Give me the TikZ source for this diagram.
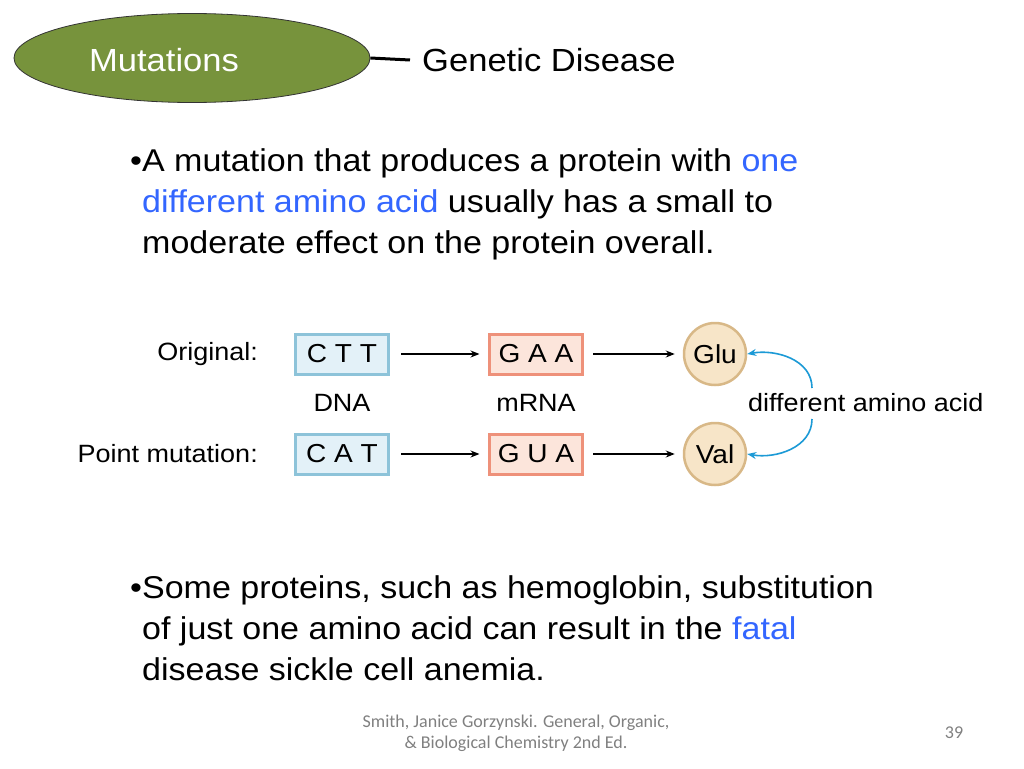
\documentclass[tikz,border=0pt]{standalone}
\usepackage{fontspec}
\setmainfont[FakeStretch=1.08,Ligatures=NoCommon]{Liberation Sans}
\newfontfamily\calib{Carlito}
\usetikzlibrary{arrows.meta,shapes.geometric}
\definecolor{olive}{HTML}{77933C}
\definecolor{hl}{HTML}{3366FF}
\definecolor{dnafill}{HTML}{E3F1F8}
\definecolor{dnaedge}{HTML}{8DC3D9}
\definecolor{rnafill}{HTML}{FCE5DB}
\definecolor{rnaedge}{HTML}{EE917A}
\definecolor{aafill}{HTML}{F7E5C8}
\definecolor{aaedge}{HTML}{D8B887}
\definecolor{cyanarr}{HTML}{1C9AD6}
\begin{document}
\begin{tikzpicture}[x=1pt,y=-1pt,
  body/.style={anchor=base west,inner sep=0pt,font=\fontsize{31.5}{41}\selectfont},
  lab/.style={inner sep=0pt,font=\fontsize{25}{30}\selectfont},
  dnabox/.style={draw=dnaedge,fill=dnafill,line width=3pt,minimum width=93pt,minimum height=40pt,inner sep=0pt,font=\fontsize{26}{30}\selectfont},
  rnabox/.style={draw=rnaedge,fill=rnafill,line width=3pt,minimum width=93pt,minimum height=40pt,inner sep=0pt,font=\fontsize{26}{30}\selectfont},
  aa/.style={circle,draw=aaedge,fill=aafill,line width=2.5pt,minimum size=62pt,inner sep=0pt,font=\fontsize{26}{30}\selectfont},
  flow/.style={-{Stealth[length=9pt,width=7pt]},line width=1.3pt},
  diffarr/.style={-{Stealth[length=9pt,width=7pt]},line width=1.6pt,draw=cyanarr},
  foot/.style={inner sep=0pt,text=black!50,font=\calib\fontsize{18}{21}\selectfont,align=center}]
\fill[white] (0,0) rectangle (1024,768);
\useasboundingbox (0,0) rectangle (1024,768);
% title
\node[ellipse,draw=black!80,line width=0.8pt,fill=olive,minimum width=356pt,minimum height=89pt,inner sep=0pt] (mut) at (192,58) {};
\node[text=white,inner sep=0pt,font=\fontsize{32}{38}\selectfont] (mutt) at (164,60) {Mutations};
\node[anchor=west,inner sep=0pt,font=\fontsize{32}{38}\selectfont] (gd) at (422,60) {Genetic Disease};
\draw[line width=3pt] (mut.east) -- ([xshift=-12pt]gd.west);
% bullet 1
\node[body] (b1a) at (130,171) {\textbullet A mutation that produces a protein with \textcolor{hl}{one}};
\node[body] (b1b) at (142,212) {\textcolor{hl}{different amino acid} usually has a small to};
\node[body] (b1c) at (142,253) {moderate effect on the protein overall.};
% diagram
\node[lab,anchor=east] (orig) at (258,354) {Original:};
\node[lab,anchor=east] (pm) at (258,454) {Point mutation:};
\node[dnabox] (ctt) at (342,354) {C T T};
\node[dnabox] (cat) at (342,454) {C A T};
\node[rnabox] (gaa) at (536,354) {G A A};
\node[rnabox] (gua) at (536,454) {G U A};
\node[aa] (glu) at (715,354) {Glu};
\node[aa] (val) at (715,454) {Val};
\node[lab] (dna) at (342,403) {DNA};
\node[lab] (mrna) at (536,403) {mRNA};
\node[lab,anchor=west] (diff) at (748,403) {different amino acid};
\draw[flow] ([xshift=11pt]ctt.east) -- ([xshift=-8.5pt]gaa.west);
\draw[flow] ([xshift=11pt]cat.east) -- ([xshift=-8.5pt]gua.west);
\draw[flow] ([xshift=9pt]gaa.east) -- ([xshift=-8pt]glu.west);
\draw[flow] ([xshift=9pt]gua.east) -- ([xshift=-8pt]val.west);
\coordinate (d1) at (812,388);
\coordinate (d2) at (812,419);
\draw[diffarr] (d1) to[out=90,in=10] (glu.east);
\draw[diffarr] (d2) to[out=-90,in=-10] (val.east);
% bullet 2
\node[body] (b2a) at (130,598) {\textbullet Some proteins, such as hemoglobin, substitution};
\node[body] (b2b) at (142,639) {of just one amino acid can result in the \textcolor{hl}{fatal}};
\node[body] (b2c) at (142,680) {disease sickle cell anemia.};
% footer
\node[foot] (ref) at (516,733) {Smith, Janice Gorzynski. General, Organic,\\ \& Biological Chemistry 2nd Ed.};
\node[foot] (pg) at (954,733) {39};
\end{tikzpicture}
\end{document}
